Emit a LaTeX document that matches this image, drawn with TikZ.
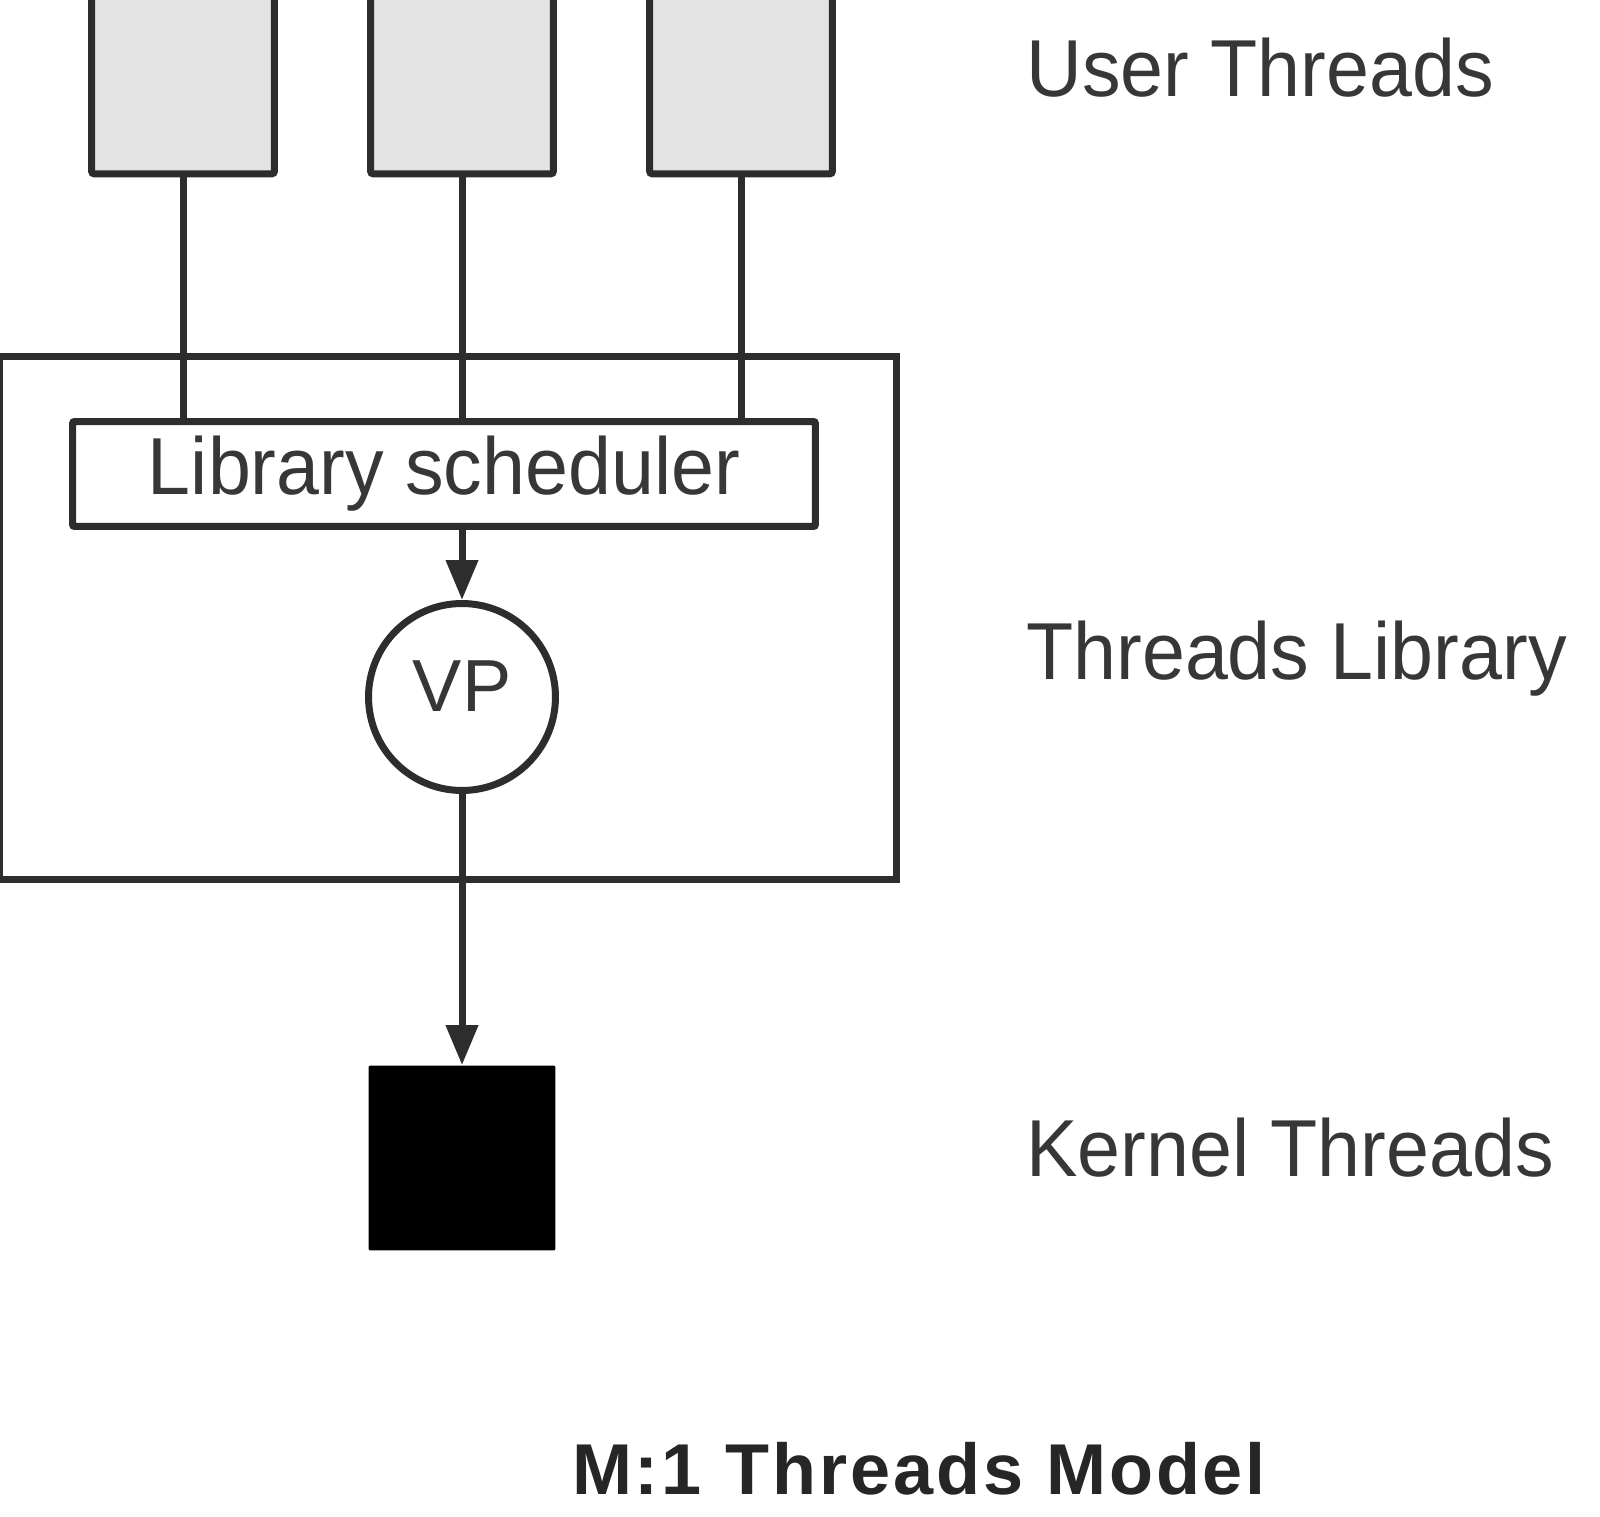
\documentclass[tikz,border=0pt]{standalone}
\usepackage{fontspec}
\setmainfont{Liberation Sans}
\newfontfamily\lblfont[FakeStretch=0.955]{Liberation Sans}
\newfontfamily\ttlfont[LetterSpace=4]{Liberation Sans}
\usetikzlibrary{arrows.meta}
\definecolor{ink}{RGB}{45,45,45}
\definecolor{txt}{RGB}{55,55,55}
\definecolor{ufill}{RGB}{227,227,227}
\tikzset{
  ln/.style={draw=ink, line width=0.14cm},
  ubox/.style={ln, fill=ufill, rounded corners=0.06cm, minimum width=3.66cm, minimum height=4.4cm, anchor=south, inner sep=0pt},
  libbox/.style={ln, fill=white, rounded corners=0.04cm, inner sep=0pt},
  vpnode/.style={ln, fill=white, circle, minimum size=3.74cm, inner sep=0pt, text=txt, font=\fontsize{42pt}{46pt}\selectfont},
  kbox/.style={fill=black, rounded corners=0.04cm, minimum width=3.74cm, minimum height=3.7cm, inner sep=0pt},
  lbl/.style={anchor=base west, text=txt, inner sep=0pt, font=\lblfont\fontsize{46pt}{50pt}\selectfont},
  conn/.style={ln},
  arr/.style={ln, -{Triangle[length=0.8cm, width=0.62cm]}},
}
\begin{document}
\begin{tikzpicture}[x=0.02cm, y=-0.02cm]
\useasboundingbox (0,0) rectangle (1600,1517);
\clip (0,0) rectangle (1600,1517);
% user threads
\node[ubox] (u1) at (183,177.5) {};
\node[ubox] (u2) at (462,177.5) {};
\node[ubox] (u3) at (741,177.5) {};
% threads library outer box
\node[draw=ink, line width=0.14cm, minimum width=17.95cm, minimum height=10.46cm, inner sep=0pt] (lib) at (448,618) {};
% scheduler
\node[libbox, minimum width=14.86cm, minimum height=2.1cm, text=txt, font=\lblfont\fontsize{46pt}{50pt}\selectfont] (sched) at (444,474) {\raisebox{-0.05cm}{Library scheduler}};
% VP
\node[vpnode] (vp) at (462,697) {\raisebox{0.45cm}{VP}};
% kernel thread
\node[kbox] (kern) at (462,1158) {};
% connectors
\draw[conn] (u1.south) -- (u1.south |- sched.north);
\draw[conn] (u2.south) -- (u2.south |- sched.north);
\draw[conn] (u3.south) -- (u3.south |- sched.north);
\draw[arr] (vp.north |- sched.south) -- (vp.north);
\draw[arr] (vp.south) -- (kern.north);
% labels
\node[lbl] (lu) at (1026,97) {User Threads};
\node[lbl] (ll) at (1026,679) {Threads Library};
\node[lbl] (lk) at (1026,1176) {Kernel Threads};
\node[anchor=base, inner sep=0pt, text=black!85, font=\ttlfont\bfseries\fontsize{41pt}{45pt}\selectfont] (title) at (919,1494) {M:1\,\,Threads Model};
\end{tikzpicture}
\end{document}
